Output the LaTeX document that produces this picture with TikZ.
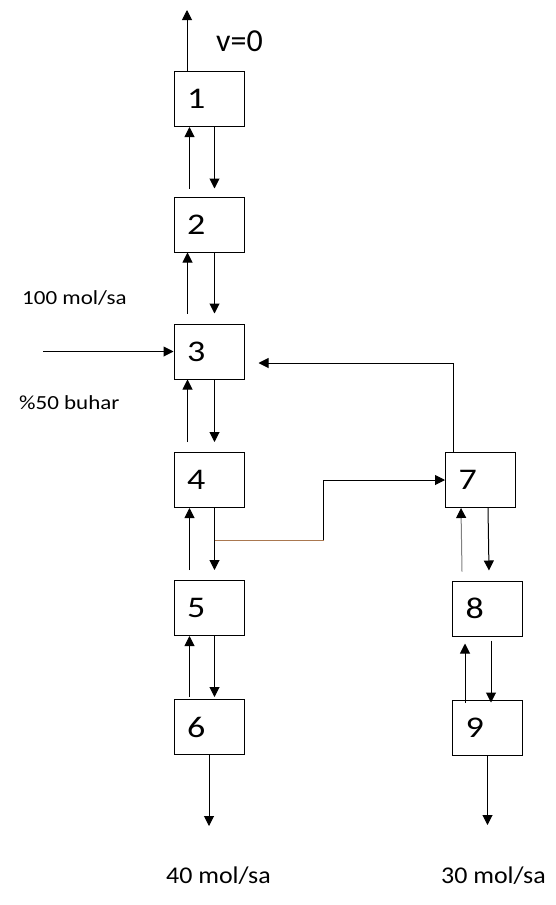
\documentclass[tikz,border=0pt]{standalone}
\usepackage{fontspec}
\setmainfont{Carlito}
\newfontfamily\boxfont[FakeStretch=1.2]{Carlito}
\newfontfamily\lfont[FakeStretch=1.15]{Carlito}
\newfontfamily\bfont[FakeStretch=1.08]{Carlito}
\usetikzlibrary{arrows.meta,calc}
\definecolor{brownline}{RGB}{170,120,80}
\begin{document}
\begin{tikzpicture}[x=1pt,y=-1pt,
  box/.style={draw,line width=1pt,minimum width=70pt,minimum height=55pt,
    text width=44pt,inner xsep=13pt,inner ysep=0pt,align=left,
    font=\boxfont\fontsize{30}{32}\selectfont},
  arr/.style={line width=1pt,-{Triangle[length=10pt,width=10pt]}},
  lab/.style={anchor=base west,inner sep=0pt,font=\lfont\fontsize{20}{24}\selectfont},
  blab/.style={anchor=base west,inner sep=0pt,font=\bfont\fontsize{24}{28}\selectfont}]
\useasboundingbox (0,0) rectangle (555,905);

\node[box] (b1) at (209,99) {1};
\node[box] (b2) at (209,224.5) {2};
\node[box] (b3) at (209,351.5) {3};
\node[box] (b4) at (209,480) {4};
\node[box] (b5) at (209,608) {5};
\node[box] (b6) at (209,727) {6};
\node[box] (b7) at (480.5,480) {7};
\node[box] (b8) at (487.5,608.5) {8};
\node[box] (b9) at (487.5,727.5) {9};

\node[anchor=base west,inner sep=0pt,font=\fontsize{32}{36}\selectfont] (v) at (216,51) {v=0};
\node[lab] (f1) at (22,304) {100 mol/sa};
\node[lab] (f2) at (19,409) {\%50 buhar};
\node[blab] (p6) at (166,883) {40 mol/sa};
\node[blab] (p9) at (441,883) {30 mol/sa};

\coordinate (top) at (187,10);
\coordinate (in) at (43,351.5);
\coordinate (o6) at (209,826);
\coordinate (o9) at (487.5,825);

% top outlet
\draw[arr] (b1.north west -| top) -- (top);
% feed
\draw[arr] (in) -- (b3.west);

% column 1 up/down streams
\draw[arr] ($(b2.north west)+(16,-8)$) -- ($(b1.south west)+(16,0)$);
\draw[arr] ($(b1.south west)+(41,0)$) -- ($(b2.north west)+(41,-8)$);
\draw[arr] ($(b3.north west)+(14,-10)$) -- ($(b2.south west)+(14,0)$);
\draw[arr] ($(b2.south west)+(41,0)$) -- ($(b3.north west)+(41,-10)$);
\draw[arr] ($(b4.north west)+(14,-10)$) -- ($(b3.south west)+(14,0)$);
\draw[arr] ($(b3.south west)+(41,0)$) -- ($(b4.north west)+(41,-10)$);
\draw[arr] ($(b5.north west)+(16,-10)$) -- ($(b4.south west)+(16,0)$);
\draw[arr] ($(b4.south west)+(41,0)$) -- ($(b5.north west)+(41,-10)$);
\draw[arr] ($(b6.north west)+(16,-2)$) -- ($(b5.south west)+(16,0)$);
\draw[arr] ($(b5.south west)+(41,0)$) -- ($(b6.north west)+(41,-2)$);
\draw[arr] (b6.south) -- (o6);

% side draw from 4 to 7
\coordinate (j) at ($(b4.south west)+(41,32)$);
\coordinate (k) at ($(j)+(109,0)$);
\draw[brownline,line width=1pt] (j) -- (k);
\draw[arr] (k) |- (b7.west);

% recycle 7 -> 3
\draw[arr] ($(b7.north west)+(8,0)$) |- ($(b3.east)+(14,11.5)$);

% column 2
\draw[line width=1pt,draw=gray,-{Triangle[length=10pt,width=10pt,black]}] ($(b8.north west)+(10,-9)$) -- ($(b7.south west)+(16,0)$);
\draw[arr] ($(b7.south west)+(43,0)$) -- ($(b8.north west)+(37,-10)$);
\draw[arr] ($(b9.north west)+(13,3)$) -- ($(b8.south west)+(13,7)$);
\draw[arr] ($(b8.south west)+(39,4)$) -- ($(b9.north west)+(39,3)$);
\draw[arr] (b9.south) -- (o9);
\end{tikzpicture}
\end{document}
